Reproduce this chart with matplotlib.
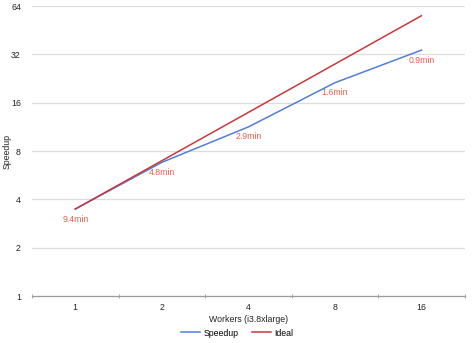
import matplotlib.pyplot as plt
import numpy as np

workers = ['1', '2', '4', '8', '16']
speedup = [3.48, 6.8, 11.3, 21.3, 34.0]
ideal = [3.48, 6.96, 13.92, 27.84, 55.68]
times = ['9.4min', '4.8min', '2.9min', '1.6min', '0.9min']

plt.rcParams['font.family'] = ['Liberation Sans', 'DejaVu Sans']

fig = plt.figure(figsize=(4.74, 3.43), dpi=100)
ax = fig.add_axes([0.0675, 0.137, 0.913, 0.8455])

x = np.arange(len(workers))
ax.plot(x, speedup, color='#4f7fdb', lw=1.1, label='Speedup')
ax.plot(x, ideal, color='#c8383a', lw=1.1, label='Ideal')

for xi, yi, t in zip(x, speedup, times):
    ax.annotate(t, (xi, yi), xytext=(0, -4), textcoords='offset points',
                ha='center', va='top', fontsize=6.3, color='#e5604c')

ax.set_yscale('log', base=2)
ax.set_ylim(1, 64)
ax.set_yticks([1, 2, 4, 8, 16, 32, 64])
ax.set_yticklabels(['1', '2', '4', '8', '16', '32', '64'])
ax.yaxis.set_minor_locator(plt.NullLocator())
ax.set_xlim(-0.5, len(workers) - 0.5)
ax.set_xticks(x)
ax.set_xticklabels(workers)
ax.set_xticks(np.arange(-0.5, len(workers)), minor=True)
ax.tick_params(axis='x', which='major', length=0, labelsize=6.3, pad=5, colors='#222222')
ax.tick_params(axis='x', which='minor', length=3, color='#999999', direction='inout')
ax.tick_params(axis='y', length=0, labelsize=6.3, pad=8, colors='#222222')
ax.grid(axis='y', color='#dddddd', lw=0.9)
ax.set_axisbelow(True)
for s in ['top', 'right', 'left']:
    ax.spines[s].set_visible(False)
ax.spines['bottom'].set_color('#999999')
ax.spines['bottom'].set_linewidth(0.9)

ax.set_xlabel('Workers (i3.8xlarge)', fontsize=6.3, color='#222222')
ax.set_ylabel('Speedup', fontsize=6.3, color='#222222')
ax.xaxis.set_label_coords(0.5, -0.066)
ax.yaxis.set_label_coords(-0.048, 0.5)

fig.legend(loc='center', bbox_to_anchor=(0.5, 0.029), ncol=2, frameon=False,
           fontsize=6.3, handlelength=2.2, columnspacing=1.5, handletextpad=0.4)

fig.savefig('out.png', dpi=100)
